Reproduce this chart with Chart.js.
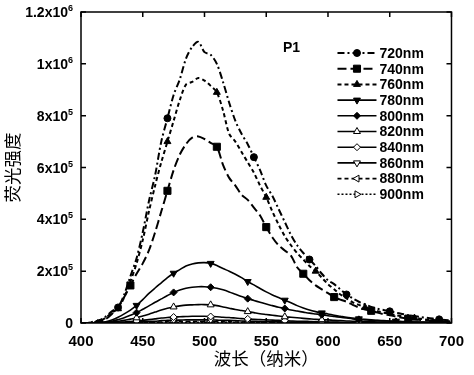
<!DOCTYPE html>
<html>
<head>
<meta charset="utf-8">
<script src="https://cdn.jsdelivr.net/npm/chart.js@4.4.0/dist/chart.umd.min.js"></script>
<style>
  html, body { margin: 0; padding: 0; background: #fff; }
</style>
</head>
<body>
<canvas id="pl" width="474" height="375"></canvas>
<script>
'use strict';

// wavelength (nm) and intensity in units of 1e5
const waves = [400, 405, 410, 415, 420, 425, 430, 435, 440, 445, 450, 455, 460, 465, 470, 475, 480, 485, 490, 495,
  500, 505, 510, 515, 520, 525, 530, 535, 540, 545, 550, 555, 560, 565, 570, 575, 580, 585, 590, 595,
  600, 605, 610, 615, 620, 625, 630, 635, 640, 645, 650, 655, 660, 665, 670, 675, 680, 685, 690, 695, 700];

const labels = ['720nm', '740nm', '760nm', '780nm', '800nm', '820nm', '840nm', '860nm', '880nm', '900nm'];

const s720 = [0, 0, 0.05, 0.1, 0.25, 0.45, 0.6, 1.1, 1.8, 2.5, 3.5, 4.7, 5.7, 7.0, 7.9, 8.8, 9.4, 10.2, 10.65, 10.85,
  10.45, 10.35, 10.0, 9.3, 8.5, 7.8, 7.3, 6.9, 6.4, 5.9, 5.3, 4.9, 4.4, 3.9, 3.4, 3.0, 2.7, 2.45, 2.2, 1.9,
  1.65, 1.5, 1.3, 1.1, 0.95, 0.82, 0.72, 0.62, 0.55, 0.5, 0.45, 0.4, 0.35, 0.3, 0.27, 0.23, 0.2, 0.17, 0.14, 0.12, 0.1];
const s740 = [0, 0, 0.02, 0.05, 0.15, 0.35, 0.6, 1.0, 1.45, 1.9, 2.3, 2.8, 3.5, 4.3, 5.1, 5.9, 6.5, 6.9, 7.15, 7.2,
  7.1, 6.95, 6.8, 6.1, 5.6, 5.3, 4.95, 4.75, 4.45, 4.15, 3.7, 3.3, 3.0, 2.8, 2.6, 2.15, 1.9, 1.65, 1.45, 1.3,
  1.15, 1.0, 0.9, 0.82, 0.7, 0.6, 0.52, 0.47, 0.4, 0.34, 0.3, 0.25, 0.2, 0.17, 0.14, 0.12, 0.1, 0.08, 0.07, 0.06, 0.05];
const s760 = [0, 0, 0.03, 0.08, 0.2, 0.4, 0.55, 1.0, 1.6, 2.3, 3.2, 4.3, 5.3, 6.2, 7.0, 7.8, 8.6, 9.2, 9.3, 9.45,
  9.35, 9.15, 8.9, 8.2, 7.3, 7.0, 6.6, 6.2, 5.8, 5.3, 4.85, 4.3, 3.8, 3.35, 3.0, 2.7, 2.45, 2.2, 2.0, 1.75,
  1.5, 1.3, 1.1, 0.95, 0.8, 0.7, 0.6, 0.52, 0.45, 0.4, 0.35, 0.3, 0.26, 0.22, 0.19, 0.16, 0.13, 0.11, 0.09, 0.07, 0.06];
const s780 = [0, 0, 0, 0.02, 0.05, 0.12, 0.22, 0.35, 0.5, 0.68, 0.9, 1.14, 1.35, 1.55, 1.75, 1.92, 2.06, 2.2, 2.28, 2.32,
  2.33, 2.3, 2.22, 2.1, 2.0, 1.88, 1.75, 1.6, 1.47, 1.33, 1.2, 1.08, 0.98, 0.88, 0.78, 0.67, 0.58, 0.5, 0.44, 0.39,
  0.35, 0.3, 0.26, 0.22, 0.19, 0.16, 0.14, 0.12, 0.1, 0.09, 0.08, 0.07, 0.06, 0.05, 0.04, 0.04, 0.03, 0.03, 0.02, 0.02, 0.02];
const s800 = [0, 0, 0, 0.01, 0.03, 0.07, 0.13, 0.2, 0.3, 0.4, 0.53, 0.66, 0.8, 0.93, 1.06, 1.18, 1.27, 1.34, 1.38, 1.4,
  1.4, 1.38, 1.34, 1.28, 1.2, 1.11, 1.02, 0.94, 0.87, 0.8, 0.73, 0.67, 0.61, 0.56, 0.5, 0.46, 0.42, 0.38, 0.35, 0.32,
  0.28, 0.25, 0.22, 0.19, 0.16, 0.14, 0.12, 0.1, 0.09, 0.08, 0.07, 0.06, 0.05, 0.04, 0.04, 0.03, 0.03, 0.02, 0.02, 0.02, 0.01];
const s820 = [0, 0, 0, 0, 0.02, 0.04, 0.07, 0.1, 0.15, 0.2, 0.27, 0.34, 0.42, 0.5, 0.57, 0.62, 0.66, 0.69, 0.7, 0.71,
  0.71, 0.7, 0.67, 0.62, 0.57, 0.52, 0.48, 0.44, 0.4, 0.36, 0.33, 0.3, 0.27, 0.24, 0.22, 0.2, 0.18, 0.16, 0.14, 0.13,
  0.12, 0.1, 0.09, 0.08, 0.07, 0.06, 0.05, 0.05, 0.04, 0.04, 0.03, 0.03, 0.03, 0.02, 0.02, 0.02, 0.02, 0.01, 0.01, 0.01, 0.01];
const s840 = [0, 0, 0, 0, 0.01, 0.02, 0.03, 0.04, 0.06, 0.08, 0.1, 0.13, 0.16, 0.19, 0.21, 0.23, 0.24, 0.25, 0.26, 0.26,
  0.26, 0.25, 0.24, 0.22, 0.21, 0.19, 0.17, 0.16, 0.14, 0.13, 0.12, 0.11, 0.1, 0.09, 0.08, 0.07, 0.07, 0.06, 0.05, 0.05,
  0.04, 0.04, 0.03, 0.03, 0.03, 0.02, 0.02, 0.02, 0.02, 0.01, 0.01, 0.01, 0.01, 0.01, 0.01, 0.01, 0.01, 0, 0, 0, 0];
const s860 = [0, 0, 0, 0, 0, 0.01, 0.01, 0.02, 0.03, 0.04, 0.05, 0.06, 0.07, 0.09, 0.1, 0.11, 0.11, 0.12, 0.12, 0.12,
  0.12, 0.12, 0.11, 0.1, 0.1, 0.09, 0.08, 0.07, 0.07, 0.06, 0.06, 0.05, 0.05, 0.04, 0.04, 0.03, 0.03, 0.03, 0.02, 0.02,
  0.02, 0.02, 0.01, 0.01, 0.01, 0.01, 0.01, 0.01, 0, 0, 0, 0, 0, 0, 0, 0, 0, 0, 0, 0, 0];
const s880 = [0, 0, 0, 0, 0, 0, 0.01, 0.01, 0.01, 0.02, 0.02, 0.03, 0.03, 0.04, 0.05, 0.05, 0.06, 0.06, 0.06, 0.06,
  0.06, 0.06, 0.06, 0.05, 0.05, 0.04, 0.04, 0.04, 0.03, 0.03, 0.03, 0.03, 0.02, 0.02, 0.02, 0.02, 0.01, 0.01, 0.01, 0.01,
  0.01, 0.01, 0.01, 0, 0, 0, 0, 0, 0, 0, 0, 0, 0, 0, 0, 0, 0, 0, 0, 0, 0];
const s900 = [0, 0, 0, 0, 0, 0, 0, 0, 0.01, 0.01, 0.01, 0.01, 0.02, 0.02, 0.02, 0.03, 0.03, 0.03, 0.03, 0.03,
  0.03, 0.03, 0.03, 0.03, 0.02, 0.02, 0.02, 0.02, 0.02, 0.01, 0.01, 0.01, 0.01, 0.01, 0.01, 0.01, 0.01, 0, 0, 0,
  0, 0, 0, 0, 0, 0, 0, 0, 0, 0, 0, 0, 0, 0, 0, 0, 0, 0, 0, 0, 0];

// wavelengths where a symbol sits on each curve
const marks720 = [430, 470, 540, 585, 615, 650, 690];
const marks740 = [440, 470, 510, 550, 580, 605, 635, 665];
const marks760 = [430, 470, 510, 550, 590, 630, 670];
const marksLow = [415, 445, 475, 505, 535, 565, 595, 625, 655, 685];

const yTicks = [0, 2, 4, 6, 8, 10, 12];

const series = [s720, s740, s760, s780, s800, s820, s840, s860, s880, s900];
const marks = [marks720, marks740, marks760, marksLow, marksLow, marksLow, marksLow, marksLow, marksLow, marksLow];

const looks = [
  { dash: [7, 3, 2, 3], pt: 'circle', rot: 0, r: 3.5, fill: '#000', w: 2 },
  { dash: [9, 4], pt: 'rect', rot: 0, r: 5, fill: '#000', w: 2 },
  { dash: [4, 3], pt: 'triangle', rot: 0, r: 4, fill: '#000', w: 2 },
  { dash: [], pt: 'triangle', rot: 180, r: 4, fill: '#000', w: 1.6 },
  { dash: [], pt: 'rectRot', rot: 0, r: 3.5, fill: '#000', w: 1.6 },
  { dash: [], pt: 'triangle', rot: 0, r: 4, fill: '#fff', w: 1.6 },
  { dash: [], pt: 'rectRot', rot: 0, r: 3.5, fill: '#fff', w: 1.6 },
  { dash: [], pt: 'triangle', rot: 180, r: 4, fill: '#fff', w: 1.6 },
  { dash: [4, 3], pt: 'triangle', rot: -90, r: 4, fill: '#fff', w: 1.6 },
  { dash: [2, 2], pt: 'triangle', rot: 90, r: 4, fill: '#fff', w: 1.6 },
];

const FONT = 'Arial, "Liberation Sans", sans-serif';
const CJK = '"Noto Sans CJK SC", "Noto Sans", sans-serif';

const datasets = series.map((vals, i) => {
  const lk = looks[i];
  const m = marks[i];
  return {
    label: labels[i],
    data: waves.map((w, j) => ({ x: w, y: vals[j] })),
    borderColor: '#000',
    borderWidth: lk.w,
    borderDash: lk.dash,
    backgroundColor: lk.fill,
    pointStyle: lk.pt,
    pointRotation: lk.rot,
    pointBorderColor: '#000',
    pointBackgroundColor: lk.fill,
    pointBorderWidth: 1,
    pointRadius: ctx => (m.includes(waves[ctx.dataIndex]) ? lk.r : 0),
    tension: 0.3,
    fill: false,
  };
});

// box around the plot, inward tick marks, y labels with raised exponents
const frame = {
  id: 'frame',
  afterDraw(chart) {
    const { ctx, chartArea: a, scales } = chart;
    ctx.save();
    ctx.strokeStyle = '#000';
    ctx.lineWidth = 1.5;
    ctx.setLineDash([]);
    ctx.strokeRect(a.left, a.top, a.right - a.left, a.bottom - a.top);
    ctx.beginPath();
    scales.x.ticks.forEach(t => {
      const px = scales.x.getPixelForValue(t.value);
      ctx.moveTo(px, a.bottom); ctx.lineTo(px, a.bottom - 5);
      ctx.moveTo(px, a.top); ctx.lineTo(px, a.top + 5);
    });
    scales.y.ticks.forEach(t => {
      const py = scales.y.getPixelForValue(t.value);
      ctx.moveTo(a.left, py); ctx.lineTo(a.left + 5, py);
      ctx.moveTo(a.right, py); ctx.lineTo(a.right - 5, py);
    });
    ctx.stroke();

    ctx.fillStyle = '#000';
    ctx.textBaseline = 'alphabetic';
    scales.y.ticks.forEach(t => {
      const v = t.value;
      const py = scales.y.getPixelForValue(v) + 5;
      let right = a.left - 8;
      if (v === 0) {
        ctx.font = 'bold 14px ' + FONT;
        ctx.textAlign = 'right';
        ctx.fillText('0', right, py);
        return;
      }
      const base = v >= 10 ? (v / 10) + 'x10' : v + 'x10';
      const exp = v >= 10 ? '6' : '5';
      ctx.font = 'bold 9px ' + FONT;
      ctx.textAlign = 'right';
      ctx.fillText(exp, right, py - 6);
      right -= ctx.measureText(exp).width;
      ctx.font = 'bold 14px ' + FONT;
      ctx.fillText(base, right, py);
    });
    ctx.restore();
  },
};

// legend block at the top right, plus the sample name
const keyBox = {
  id: 'keyBox',
  afterDraw(chart) {
    const { ctx, chartArea: a } = chart;
    ctx.save();
    const x0 = a.right - 114, x1 = a.right - 75, y0 = a.top + 41, step = 15.7;
    chart.data.datasets.forEach((ds, i) => {
      const y = y0 + i * step;
      const lk = looks[i];
      ctx.strokeStyle = '#000';
      ctx.lineWidth = lk.w;
      ctx.setLineDash(lk.dash);
      ctx.beginPath();
      ctx.moveTo(x0, y); ctx.lineTo(x1, y);
      ctx.stroke();
      ctx.setLineDash([]);
      ctx.fillStyle = lk.fill;
      ctx.lineWidth = 1;
      Chart.helpers.drawPoint(ctx, { pointStyle: lk.pt, rotation: lk.rot, radius: lk.r, borderWidth: 1 }, (x0 + x1) / 2, y);
      ctx.fillStyle = '#000';
      ctx.font = 'bold 14px ' + FONT;
      ctx.textAlign = 'left';
      ctx.textBaseline = 'middle';
      ctx.fillText(ds.label, x1 + 3, y + 1);
    });
    ctx.font = 'bold 14px ' + FONT;
    ctx.fillText('P1', a.left + 202, a.top + 36);
    ctx.restore();
  },
};

new Chart(document.getElementById('pl').getContext('2d'), {
  type: 'line',
  data: { datasets },
  options: {
    responsive: false,
    animation: false,
    layout: { padding: { top: 12, right: 16, left: 0, bottom: 0 } },
    plugins: { legend: { display: false }, tooltip: { enabled: false } },
    scales: {
      x: {
        type: 'linear',
        min: 400,
        max: 700,
        afterFit(s) { s.height = 52; },
        grid: { display: false, drawTicks: false },
        border: { display: false },
        ticks: { stepSize: 50, padding: 10, color: '#000', font: { family: FONT, size: 15, weight: 'bold' } },
        title: { display: true, text: '波长（纳米）', color: '#000', padding: { bottom: 6, top: 0 }, font: { family: CJK, size: 17.5 } },
      },
      y: {
        min: 0,
        max: 12,
        afterFit(s) { s.width = 81; },
        afterBuildTicks(s) { s.ticks = yTicks.map(v => ({ value: v })); },
        grid: { display: false, drawTicks: false },
        border: { display: false },
        ticks: { display: false },
        title: { display: true, text: '荧光强度', color: '#000', padding: { top: 2, bottom: 0 }, font: { family: CJK, size: 17.5 } },
      },
    },
  },
  plugins: [frame, keyBox],
});
</script>
</body>
</html>
